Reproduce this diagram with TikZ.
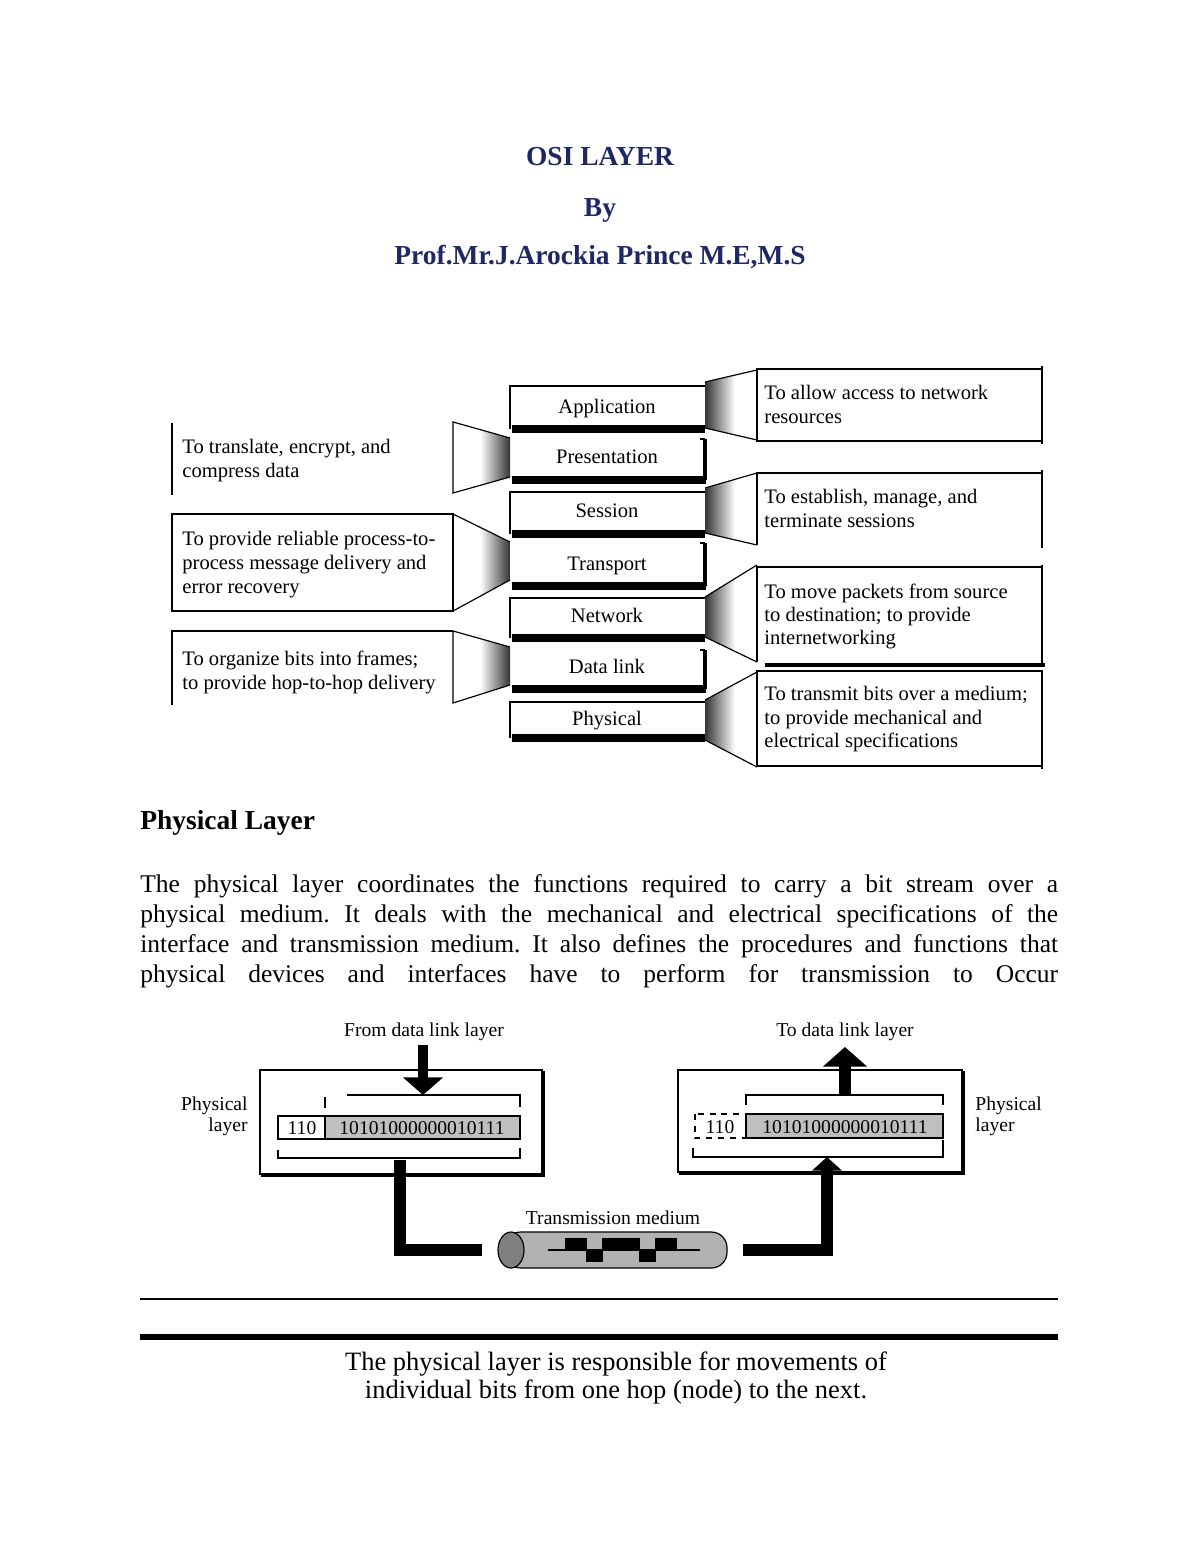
\documentclass[tikz,border=0pt]{standalone}
\usepackage{fontspec}
\setmainfont{Liberation Serif}
\usetikzlibrary{arrows.meta}
\definecolor{titleblue}{RGB}{30,40,100}
\frenchspacing
\newcommand\rightfan[4]{%
  \begin{scope}
    \clip (705,#1) -- (757,#3) -- (757,#4) -- (705,#2) -- cycle;
    \shade[left color=black!85,right color=white] (703,#3) rectangle (735,#4);
  \end{scope}
  \draw[fanline] (705,#1) -- (757,#3) (705,#2) -- (757,#4);}
\newcommand\leftfan[4]{%
  \begin{scope}
    \clip (510,#1) -- (453,#3) -- (453,#4) -- (510,#2) -- cycle;
    \shade[left color=white,right color=black!85] (480,#3) rectangle (512,#4);
  \end{scope}
  \draw[fanline] (510,#1) -- (453,#3) -- (453,#4) -- (510,#2);}
\begin{document}
\begin{tikzpicture}[x=0.51pt,y=-0.51pt,
  ttl/.style={font=\fontsize{14}{16}\bfseries\selectfont, text=titleblue, inner sep=0pt, anchor=base},
  lyr/.style={font=\fontsize{10.5}{12}\selectfont, inner sep=0pt, anchor=base},
  ctext/.style={font=\fontsize{10.5}{12}\selectfont, inner sep=0pt, anchor=base west},
  small/.style={font=\fontsize{10}{12}\selectfont, inner sep=0pt},
  fanline/.style={line width=0.6pt},
  hair/.style={line width=0.6pt},
  bar/.style={line width=3.6pt},
  redge/.style={line width=2pt},
  cedge/.style={line width=1.3pt},
  pipe/.style={line width=6pt},
]
\useasboundingbox (0,0) rectangle (1200,1553);
\fill[white] (0,0) rectangle (1200,1553);

% ---------- title ----------
\node[ttl] (t1) at (600,166) {OSI LAYER};
\node[ttl] (t2) at (600,216) {By};
\node[ttl] (t3) at (600,265) {Prof.Mr.J.Arockia Prince M.E,M.S};

% ---------- fans ----------
\rightfan{382}{428}{370}{440}
\rightfan{488}{533}{473}{545}
\rightfan{597}{637}{565}{662}
\rightfan{700}{740}{672}{767}
\leftfan{438}{477}{422}{493}
\leftfan{542}{580}{514}{611}
\leftfan{647}{685}{631}{703}

% ---------- layer boxes ----------
\foreach \t/\b in {386/429, 492/534, 598/638, 702/738}{
  \draw[hair] (510,\b) -- (510,\t) -- (705,\t);
  \draw[bar] (512,\b) -- (705,\b);
}
\foreach \t/\b in {439/480, 543/586, 650/689}{
  \draw[redge] (705,\t) -- (705,\b);
  \draw[hair] (700,\t) -- (705,\t);
  \draw[bar] (512,\b) -- (706,\b);
}
\node[lyr] (lapp) at (607,413) {Application};
\node[lyr] (lpre) at (607,463) {Presentation};
\node[lyr] (lses) at (607,517) {Session};
\node[lyr] (ltra) at (607,570) {Transport};
\node[lyr] (lnet) at (607,622) {Network};
\node[lyr] (ldl)  at (607,673) {Data link};
\node[lyr] (lphy) at (607,725) {Physical};

% ---------- right callouts ----------
\draw[hair] (757,369) rectangle (1042,441);
\draw[cedge] (1042,366) -- (1042,444);
\draw[hair] (757,545) -- (757,473) -- (1042,473);
\draw[cedge] (1042,470) -- (1042,548);
\draw[hair] (757,662) -- (757,567) -- (1042,567);
\draw[cedge] (1042,565) -- (1042,667);
\draw[line width=2.4pt] (765,665) -- (1045,665);
\draw[hair] (757,767) -- (757,671) -- (1042,671);
\draw[hair] (757,766) -- (1042,766);
\draw[cedge] (1042,670) -- (1042,769);

\node[ctext] (r1a) at (764,399) {To allow access to network};
\node[ctext] (r1b) at (764,423) {resources};
\node[ctext] (r2a) at (764,503) {To establish, manage, and};
\node[ctext] (r2b) at (764,527) {terminate sessions};
\node[ctext] (r3a) at (764,598) {To move packets from source};
\node[ctext] (r3b) at (764,621) {to destination; to provide};
\node[ctext] (r3c) at (764,644) {internetworking};
\node[ctext] (r4a) at (764,700) {To transmit bits over a medium;};
\node[ctext] (r4b) at (764,724) {to provide mechanical and};
\node[ctext] (r4c) at (764,747) {electrical specifications};

% ---------- left callouts ----------
\draw[hair] (172,423) -- (172,495);
\draw[hair] (172,514) rectangle (453,611);
\draw[hair] (172,705) -- (172,631) -- (453,631);

\node[ctext] (l1a) at (182,453) {To translate, encrypt, and};
\node[ctext] (l1b) at (182,477) {compress data};
\node[ctext] (l2a) at (182,545) {To provide reliable process-to-};
\node[ctext] (l2b) at (182,569) {process message delivery and};
\node[ctext] (l2c) at (182,593) {error recovery};
\node[ctext] (l3a) at (182,665) {To organize bits into frames;};
\node[ctext] (l3b) at (182,689) {to provide hop-to-hop delivery};

% ---------- heading + paragraph ----------
\node[anchor=base west, inner sep=0pt, font=\fontsize{14}{16}\bfseries\selectfont] (h1) at (140,829) {Physical Layer};
\node[anchor=base west, inner sep=0pt] (para) at (140,892) {\parbox[t]{468pt}{\fontsize{13}{15.3}\selectfont\frenchspacing\parfillskip=0pt\tolerance=10000\emergencystretch=20pt
The physical layer coordinates the functions required to carry a bit stream over a\linebreak
physical medium. It deals with the mechanical and electrical specifications of the\linebreak
interface and transmission medium. It also defines the procedures and functions that\linebreak
physical devices and interfaces have to perform for transmission to Occur}};

% ---------- bottom diagram ----------
\node[small, anchor=base] (from) at (424,1036) {From data link layer};
\node[small, anchor=base] (to) at (845,1036) {To data link layer};
\node[small, anchor=base east] (pl1) at (248,1110) {Physical};
\node[small, anchor=base east] (pl2) at (248,1131) {layer};
\node[small, anchor=base west] (pr1) at (975,1110) {Physical};
\node[small, anchor=base west] (pr2) at (975,1131) {layer};

% left station box
\draw[hair] (543,1070) -- (260,1070) -- (260,1175);
\draw[redge] (543,1071) -- (543,1177);
\draw[redge] (261,1175) -- (544,1175);
\draw[hair] (325,1097) -- (325,1108);
\draw[hair] (347,1095) -- (520,1095) -- (520,1107);
\draw[hair] (278,1150) -- (278,1158) -- (520,1158) -- (520,1148);
\fill[black!25] (325,1116) rectangle (520,1139);
\draw[hair] (278,1116) rectangle (520,1139);
\draw[hair] (325,1116) -- (325,1139);
\node[small, anchor=base] (lh) at (302,1134) {110};
\node[small, anchor=base] (lbits) at (422,1134) {10101000000010111};

% right station box
\draw[hair] (963,1070) -- (678,1070) -- (678,1173);
\draw[redge] (963,1071) -- (963,1175);
\draw[redge] (679,1173) -- (964,1173);
\draw[hair] (746,1105) -- (746,1095) -- (943,1095) -- (943,1105);
\draw[hair] (693,1148) -- (693,1157) -- (943,1157) -- (943,1140);
\draw[hair, dashed] (695,1114) rectangle (746,1138);
\fill[black!25] (746,1114) rectangle (943,1138);
\draw[hair] (746,1114) rectangle (943,1138);
\node[small, anchor=base] (rh) at (720,1133) {110};
\node[small, anchor=base] (rbits) at (845,1133) {10101000000010111};

% arrows
\coordinate (a1s) at (423,1045);
\coordinate (a1e) at (423,1095);
\draw[line width=5.6pt, -{Triangle[width=20pt,length=9pt]}] (a1s) -- (a1e);
\coordinate (a2s) at (845,1095);
\coordinate (a2e) at (845,1047);
\draw[line width=6.4pt, -{Triangle[width=22pt,length=10pt]}] (a2s) -- (a2e);

% medium
\node[small, anchor=base] (tm) at (613,1224) {Transmission medium};
\filldraw[hair, fill=black!30, rounded corners=8pt] (505,1232) rectangle (727,1268);
\filldraw[hair, fill=black!50] (511,1250) ellipse [x radius=13, y radius=18];
\draw[line width=1.2pt] (548,1250) -- (700,1250);
\fill[black] (565,1238) rectangle (587,1251);
\fill[black] (602,1238) rectangle (640,1251);
\fill[black] (655,1238) rectangle (677,1251);
\fill[black] (586,1249) rectangle (603,1262);
\fill[black] (639,1249) rectangle (656,1262);

\coordinate (m1) at (400,1160);
\coordinate (m2) at (482,1250);
\draw[pipe, line join=miter] (m1) |- (m2);
\coordinate (m3) at (743,1250);
\coordinate (m4) at (827,1157);
\draw[pipe, line join=miter, -{Triangle[width=15pt,length=7pt]}] (m3) -| (m4);

% ---------- rules + caption ----------
\draw[line width=1pt] (140,1299) -- (1058,1299);
\draw[line width=2.6pt] (140,1337) -- (1058,1337);
\node[anchor=base, inner sep=0pt, font=\fontsize{13.5}{15}\selectfont] (c1) at (616,1370) {The physical layer is responsible for movements of};
\node[anchor=base, inner sep=0pt, font=\fontsize{13.5}{15}\selectfont] (c2) at (616,1398) {individual bits from one hop (node) to the next.};
\end{tikzpicture}
\end{document}
